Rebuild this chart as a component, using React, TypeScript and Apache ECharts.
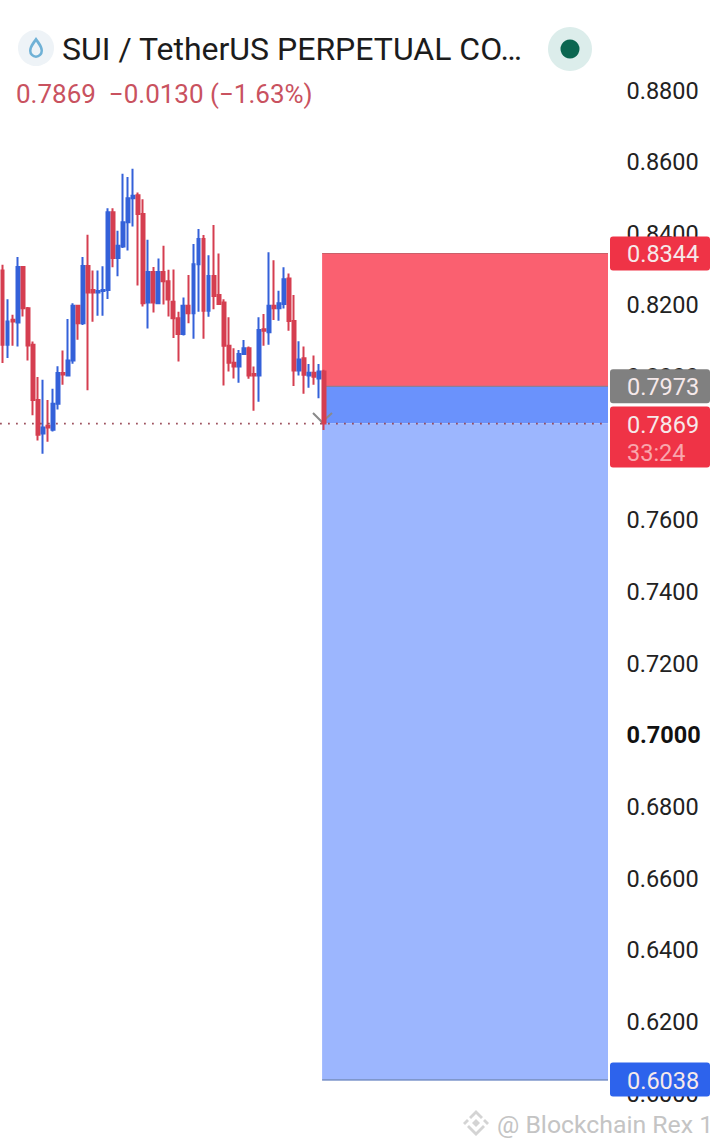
import React, { useEffect, useRef } from "react";
import * as echarts from "echarts";

const titleText = "SUI / TetherUS PERPETUAL CO…";
const quoteText = "0.7869  −0.0130 (−1.63%)";
const watermarkText = "@ Blockchain Rex 1";
const countdown = "33:24";

const opens = [.8296,.8089,.8159,.8151,.8306,.8191,.8089,.7935,.7841,.7863,.7852,.7924,.8010,.8003,.8045,.8198,.8149,.8309,.8242,.8235,.8239,.8242,.8459,.8331,.8363,.8431,.8498,.8506,.8454,.8207,.8292,.8205,.8292,.8266,.8209,.8163,.8119,.8198,.8177,.8314,.8384,.8184,.8281,.8228,.8207,.8086,.8039,.8028,.8063,.8079,.8007,.8003,.8132,.8124,.8198,.8191,.8203,.8274,.8155,.8017,.8051,.8003,.8011,.7995,.8014];
const closes = [.8089,.8154,.8154,.8306,.8191,.8087,.7935,.7838,.7858,.7858,.7924,.8010,.8006,.8045,.8198,.8149,.8309,.8235,.8235,.8239,.8242,.8459,.8331,.8365,.8431,.8498,.8505,.8454,.8205,.8292,.8207,.8292,.8266,.8215,.8163,.8119,.8198,.8177,.8314,.8384,.8184,.8281,.8225,.8203,.8086,.8039,.8028,.8063,.8079,.8003,.8003,.8130,.8128,.8198,.8191,.8205,.8272,.8155,.8017,.8048,.8005,.8011,.8000,.8014,.7869];
const lows = [.8038,.8052,.8086,.8084,.8168,.8045,.7892,.7822,.7785,.7818,.7847,.7908,.7977,.8003,.8036,.8103,.8144,.7962,.8153,.8170,.8170,.8217,.8305,.8280,.8359,.8352,.8419,.8254,.8196,.8134,.8179,.8203,.8201,.8168,.8108,.8042,.8115,.8149,.8106,.8181,.8106,.8167,.8188,.8203,.7975,.8014,.7995,.7983,.8061,.7994,.7905,.7930,.8086,.8089,.8158,.8156,.8190,.8128,.7974,.8003,.7952,.7969,.7977,.7940,.7851];
const highs = [.8312,.8216,.8173,.8334,.8306,.8194,.8098,.7999,.7991,.7935,.7966,.8029,.8073,.8161,.8205,.8198,.8334,.8396,.8296,.8296,.8308,.8470,.8470,.8407,.8566,.8557,.8580,.8514,.8495,.8382,.8306,.8330,.8365,.8298,.8299,.8181,.8221,.8284,.8370,.8412,.8395,.8339,.8423,.8344,.8216,.8166,.8079,.8074,.8102,.8084,.8028,.8166,.8175,.8347,.8325,.8240,.8305,.8288,.8228,.8099,.8084,.8035,.8059,.8035,.8019];

const slotCount = 121;
const stopPrice = 0.8344;
const entryPrice = 0.7973;
const currentPrice = 0.7869;
const targetPrice = 0.6038;
const lastIndex = opens.length - 1;

const RED = "#d53e50";
const BLUE = "#3461d9";
const LEFT = -3;
const RIGHT_EDGE = 608;
const TOP = 90;
const BOTTOM_Y = 1093.2;

const zoneTops = [stopPrice, entryPrice, currentPrice];
const zoneBottoms = [entryPrice, currentPrice, targetPrice];
const zoneFills = ["#fa6070", "#6a92fc", "#9cb6fe"];

const tagPrices = [stopPrice, entryPrice, currentPrice, targetPrice];
const tagLabels = ["0.8344", "0.7973", "0.7869", "0.6038"];
const tagFills = ["#ef3346", "#808080", "#ef3346", "#2d63ec"];

echarts.graphic.registerShape(
  "suiDrop",
  echarts.graphic.extendPath(
    "M8 0C10 3 15 8 15 13A7 7 0 0 1 1 13C1 8 6 3 8 0ZM3.5 13A4.5 4.5 0 0 0 12.5 13C12.5 10 9.5 7 8 4.5C6.5 7 3.5 10 3.5 13Z",
    {}
  )
);
echarts.graphic.registerShape(
  "exLogo",
  echarts.graphic.extendPath(
    "M14 0L21 7L19 9L14 4L9 9L7 7ZM5 9L7 11L5 13L3 15L1 13L3 11ZM23 9L27 13L25 15L21 11ZM14 9L18 13L14 17L10 13ZM7 15L14 22L21 15L23 17L14 26L5 17Z",
    {}
  )
);

export default function App() {
  const ref = useRef<HTMLDivElement>(null);
  useEffect(() => {
    const chart = echarts.init(ref.current!, undefined, { renderer: "svg" });
    chart.setOption({
      animation: false,
      backgroundColor: "#ffffff",
      grid: { left: LEFT, top: TOP, width: RIGHT_EDGE - LEFT, height: BOTTOM_Y - TOP },
      xAxis: {
        type: "category",
        show: false,
        data: Array.from({ length: slotCount }, (_, i) => String(i)),
      },
      yAxis: {
        type: "value",
        position: "right",
        min: 0.6,
        max: 0.88,
        interval: 0.02,
        axisLine: { show: false },
        axisTick: { show: false },
        splitLine: { show: false },
        axisLabel: {
          margin: 18.5,
          align: "left",
          fontFamily: "Roboto",
          fontSize: 23.5,
          color: "#222222",
          padding: [1, 0, 0, 0],
          formatter: (v: number) => (Math.abs(v - 0.7) < 1e-6 ? `{b|${v.toFixed(4)}}` : v.toFixed(4)),
          rich: { b: { fontFamily: "Roboto", fontSize: 23.5, fontWeight: "bold", color: "#111111" } },
        },
      },
      series: [
        {
          type: "custom",
          z: 1,
          silent: true,
          data: zoneTops.map((t, i) => [lastIndex, slotCount - 1, t, zoneBottoms[i], i]),
          renderItem: (_p: any, api: any) => {
            const a = api.coord([api.value(0), api.value(2)]);
            const b = api.coord([api.value(1), api.value(3)]);
            const half = api.size([1, 0])[0] / 2;
            const i = api.value(4);
            const x = a[0] - 2;
            const w = b[0] + half - x;
            return {
              type: "group",
              children: [
                { type: "rect", shape: { x, y: a[1], width: w, height: b[1] - a[1] }, style: { fill: zoneFills[i] } },
                i === 0
                  ? { type: "rect", shape: { x, y: a[1] - 0.5, width: w, height: 1.2 }, style: { fill: "#c9606a" } }
                  : i === 1
                  ? { type: "rect", shape: { x, y: a[1] - 0.5, width: w, height: 1.2 }, style: { fill: "#8d7f96" } }
                  : { type: "rect", shape: { x, y: b[1] - 0.5, width: w, height: 1.6 }, style: { fill: "#7f97cc" } },
              ],
            };
          },
        },
        {
          type: "candlestick",
          z: 3,
          barWidth: 3.4,
          silent: true,
          data: opens.map((o, i) => [o, closes[i], lows[i], highs[i]]),
          itemStyle: { color: BLUE, color0: RED, borderColor: BLUE, borderColor0: RED, borderWidth: 2 },
        },
        {
          type: "custom",
          z: 4,
          silent: true,
          data: [[0, slotCount - 1, currentPrice]],
          renderItem: (_p: any, api: any) => {
            const a = api.coord([api.value(0), api.value(2)]);
            const b = api.coord([api.value(1), api.value(2)]);
            const half = api.size([1, 0])[0] / 2;
            return {
              type: "line",
              shape: { x1: 0, y1: a[1], x2: b[0] + half, y2: a[1] },
              style: { stroke: "#93404f", lineWidth: 1.8, lineDash: [1.8, 6.2], opacity: 0.9 },
            };
          },
        },
        {
          type: "custom",
          z: 6,
          silent: true,
          data: tagPrices.map((p, i) => [lastIndex, p, i]),
          renderItem: (_params: any, api: any) => {
            const y = api.coord([api.value(0), api.value(1)])[1];
            const i = api.value(2);
            const isCurrent = i === 2;
            const top = y - 17;
            const h = isCurrent ? 61 : 34;
            const children: any[] = [
              { type: "rect", shape: { x: 610, y: top, width: 100, height: h, r: 3 }, style: { fill: tagFills[i] } },
              {
                type: "text",
                style: {
                  x: 627, y: y + 1, text: tagLabels[i], fill: "#f6e9ea",
                  font: "23.5px Roboto", textAlign: "left", textVerticalAlign: "middle",
                },
              },
            ];
            if (isCurrent) {
              children.push({
                type: "text",
                style: {
                  x: 627, y: y + 29, text: countdown, fill: "#f9a6ad",
                  font: "23.5px Roboto", textAlign: "left", textVerticalAlign: "middle",
                },
              });
            }
            return { type: "group", children };
          },
        },
      ],
      graphic: [
        { type: "circle", z: 10, shape: { cx: 36, cy: 48, r: 18 }, style: { fill: "#eef3f7" } },
        { type: "suiDrop", z: 11, x: 28, y: 37, scaleX: 1, scaleY: 1.05, style: { fill: "#6fb1d6" } },
        {
          type: "text", z: 11, x: 62, y: 49,
          style: { text: titleText, font: "32px Roboto", fill: "#1c1c1c", textVerticalAlign: "middle" },
        },
        {
          type: "text", z: 11, x: 16, y: 94,
          style: { text: quoteText, font: "26px Roboto", fill: "#c9525f", textVerticalAlign: "middle" },
        },
        { type: "circle", z: 10, shape: { cx: 570, cy: 49, r: 22 }, style: { fill: "#dcedeb" } },
        { type: "circle", z: 11, shape: { cx: 570, cy: 49, r: 9.5 }, style: { fill: "#0b6650" } },
        {
          type: "polyline", z: 2,
          shape: { points: [[313, 413], [322, 422], [332, 413]] },
          style: { stroke: "#8a8a8a", lineWidth: 2, fill: "none" },
        },
        { type: "exLogo", z: 11, x: 462, y: 1110, style: { fill: "#d4d4d4" } },
        {
          type: "text", z: 11, x: 497, y: 1124,
          style: { text: watermarkText, font: "24.8px Roboto", fill: "#c4c4c4", textVerticalAlign: "middle" },
        },
      ],
    });
    return () => chart.dispose();
  }, []);
  return <div ref={ref} style={{ position: "fixed", left: 0, top: 0, width: 720, height: 1148 }} />;
}
